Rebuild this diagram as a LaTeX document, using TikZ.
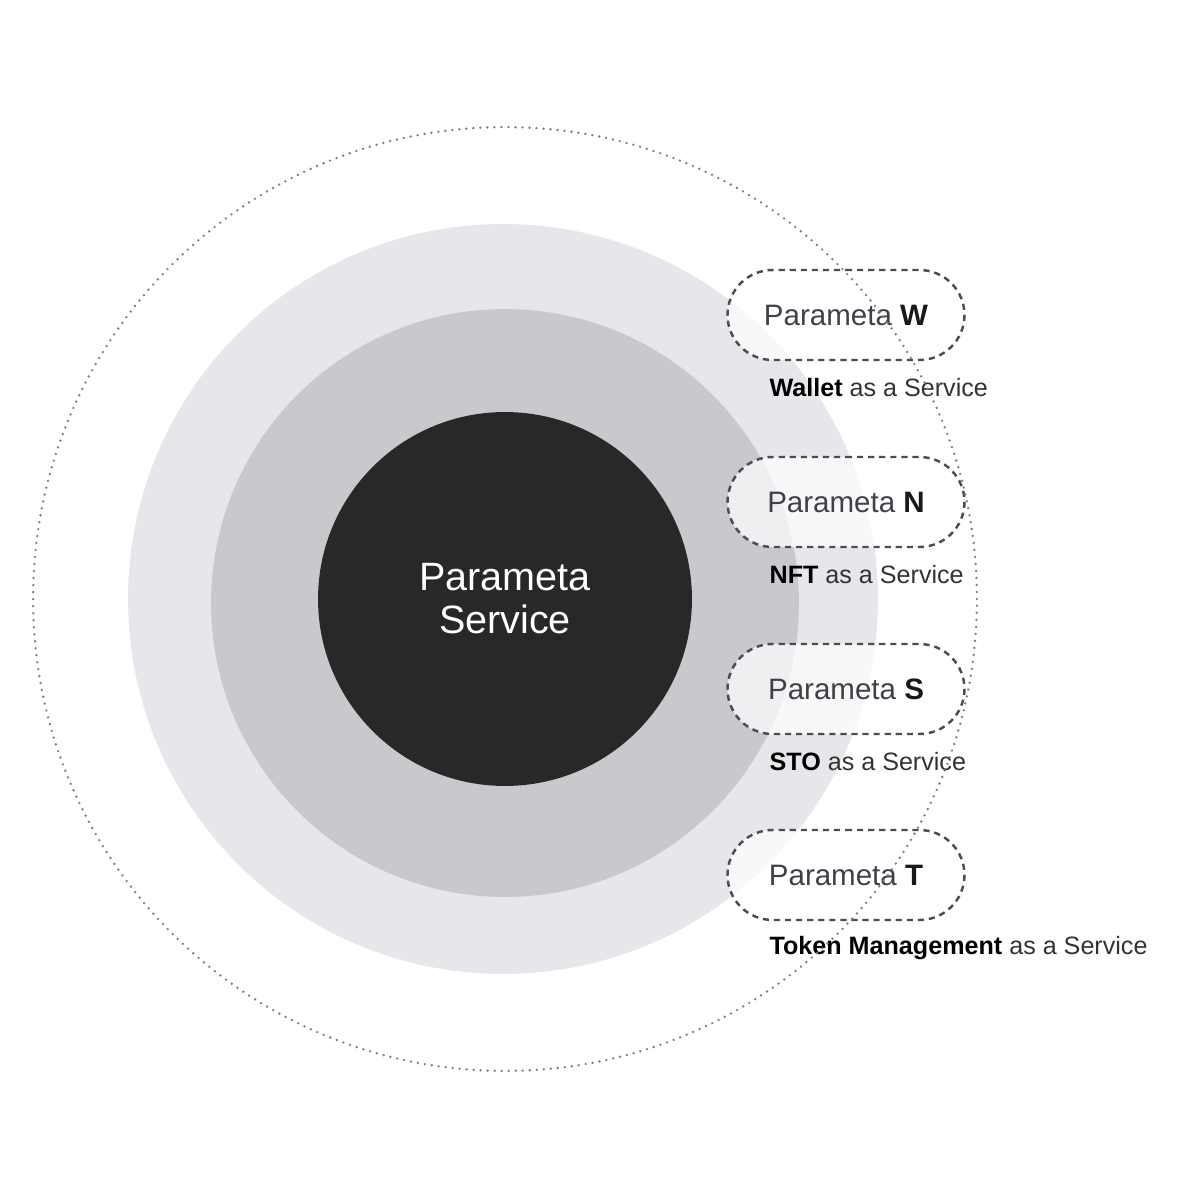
\documentclass[tikz,border=0pt]{standalone}
\usepackage{fontspec}
\setmainfont{Liberation Sans}
\usepackage{xcolor}
\usetikzlibrary{positioning,shapes.misc}
\definecolor{ringouter}{HTML}{E6E6EB}
\definecolor{ringmid}{HTML}{C9C9CD}
\definecolor{coredark}{HTML}{282828}
\definecolor{pilldash}{HTML}{4A4D55}
\definecolor{pilltext}{HTML}{3E4149}
\definecolor{dotgrey}{HTML}{7E7E84}
\tikzset{
  pill/.style={rounded rectangle, draw=pilldash, line width=1.4pt,
    dash pattern=on 3.5pt off 2.8pt, fill=white, fill opacity=0.72, text opacity=1,
    minimum width=4.74cm, minimum height=1.8cm, inner sep=0pt,
    text=pilltext, font=\fontsize{16.8}{18}\selectfont},
  tag/.style={anchor=west, inner sep=0pt, text=black!80,
    font=\fontsize{14.3}{16}\selectfont},
  core/.style={circle, fill=coredark, minimum size=7.48cm, inner sep=0pt,
    text=white, align=center, font=\fontsize{22.5}{24.5}\selectfont}
}

\begin{document}
\begin{tikzpicture}[x=0.02cm,y=-0.02cm]
\useasboundingbox[fill=white] (0,0) rectangle (1200,1199);

% nested rings
\fill[ringouter] (503,599) circle (7.5cm);
\fill[ringmid] (505,603) circle (5.88cm);
\node[core] (core) at (505,599) {Parameta\\Service};

% service pills and their captions
\foreach \ltr/\word/\yy [count=\i] in {W/Wallet/315, N/NFT/502, S/STO/689, T/Token Management/875} {
  \node[pill] (pill\i) at (846,\yy) {Parameta \textbf{\color{black!90}\ltr}};
  \node[tag] (tag\i) at ([xshift=0.86cm, yshift=-1.46cm]pill\i.west)
    {\textbf{\color{black}\word} as a Service};
}

% dotted outer boundary
\draw[dotgrey, line width=1.5pt, line cap=round, dash pattern=on 0pt off 4pt]
  (505,599) circle (9.44cm);

\end{tikzpicture}
\end{document}
